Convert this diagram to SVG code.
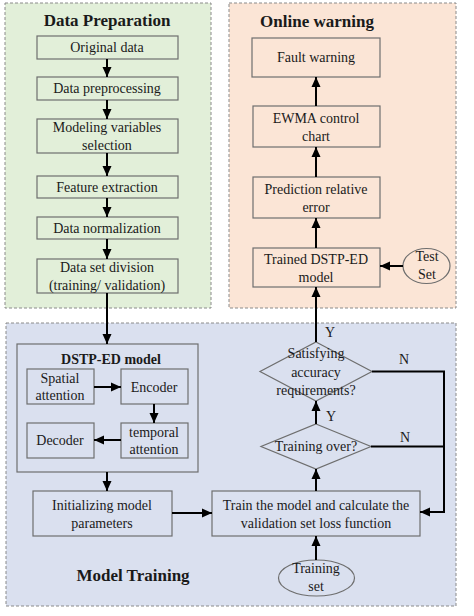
<svg xmlns="http://www.w3.org/2000/svg" width="474" height="616" viewBox="0 0 474 616">
<style>
text{font-family:"Liberation Serif","Times New Roman",serif;font-size:14px;fill:#1a1a1a;text-anchor:middle}
.t{font-weight:bold;font-size:17px}
.st{font-weight:bold;font-size:14px}
.panel{stroke:#8a8a8a;stroke-width:1;stroke-dasharray:3 2}
.box{stroke:#6e6e6e;stroke-width:1.2}
.g{fill:#e2efd9}.o{fill:#fbe5d6}.b{fill:#dae0ef}
.c{fill:none;stroke:#000;stroke-width:2}
</style>
<defs>
<marker id="ah" markerUnits="userSpaceOnUse" markerWidth="10" markerHeight="10" refX="10" refY="5" orient="auto">
<path d="M0,0.5 L10,5 L0,9.5 z" fill="#000"/>
</marker>
</defs>
<rect x="0" y="0" width="474" height="616" fill="#fff"/>
<g id="panel-prep"><rect class="panel g" x="5" y="3" width="206" height="305"/><text class="t" x="107" y="26">Data Preparation</text></g>
<g id="panel-online"><rect class="panel o" x="229" y="3" width="227" height="305"/><text class="t" x="317" y="27">Online warning</text></g>
<g id="panel-train"><rect class="panel b" x="6" y="323" width="450" height="283"/><text class="t" x="133" y="581">Model Training</text></g>

<g id="n-original"><rect class="box g" x="37" y="36" width="141" height="23"/><text x="107" y="52">Original data</text></g>
<g id="n-preproc"><rect class="box g" x="37" y="77" width="141" height="23"/><text x="107" y="93">Data preprocessing</text></g>
<g id="n-modvar"><rect class="box g" x="37" y="119" width="141" height="34"/><text x="107" y="132">Modeling variables</text><text x="107" y="150">selection</text></g>
<g id="n-feature"><rect class="box g" x="37" y="176" width="141" height="22"/><text x="107" y="192">Feature extraction</text></g>
<g id="n-norm"><rect class="box g" x="37" y="217" width="141" height="22"/><text x="107" y="233">Data normalization</text></g>
<g id="n-division"><rect class="box g" x="37" y="259" width="141" height="34"/><text x="107" y="272">Data set division</text><text x="107" y="290">(training/ validation)</text></g>

<g id="n-fault"><rect class="box o" x="252" y="38" width="128" height="39"/><text x="316" y="62">Fault warning</text></g>
<g id="n-ewma"><rect class="box o" x="253" y="106" width="127" height="41"/><text x="316" y="123">EWMA control</text><text x="316" y="141">chart</text></g>
<g id="n-pred"><rect class="box o" x="253" y="177" width="127" height="41"/><text x="316" y="194">Prediction relative</text><text x="316" y="212">error</text></g>
<g id="n-trained"><rect class="box o" x="253" y="248" width="127" height="39"/><text x="316" y="264">Trained DSTP-ED</text><text x="316" y="282">model</text></g>
<g id="n-testset"><ellipse class="box o" cx="426.5" cy="266" rx="23.5" ry="17.5"/><text x="427" y="261">Test</text><text x="427" y="279">Set</text></g>

<g id="n-dstp"><rect class="box b" x="17" y="344" width="181" height="128"/><text class="st" x="111" y="364">DSTP-ED model</text></g>
<g id="n-spatial"><rect class="box b" x="27" y="369" width="67" height="35"/><text x="60" y="383">Spatial</text><text x="60" y="400">attention</text></g>
<g id="n-encoder"><rect class="box b" x="121" y="369" width="67" height="35"/><text x="154" y="392">Encoder</text></g>
<g id="n-temporal"><rect class="box b" x="121" y="423" width="67" height="35"/><text x="154" y="437">temporal</text><text x="154" y="454">attention</text></g>
<g id="n-decoder"><rect class="box b" x="27" y="423" width="67" height="35"/><text x="60" y="445">Decoder</text></g>
<g id="n-init"><rect class="box b" x="33" y="491" width="139" height="45"/><text x="102" y="510">Initializing model</text><text x="102" y="528">parameters</text></g>
<g id="n-trainbox"><rect class="box b" x="212" y="491" width="208" height="45"/><text x="316" y="510">Train the model and calculate the</text><text x="316" y="528">validation set loss function</text></g>
<g id="n-trainset"><ellipse class="box b" cx="316.5" cy="578" rx="38" ry="18"/><text x="316" y="573">Training</text><text x="316" y="591">set</text></g>
<g id="n-over"><polygon class="box b" points="316,424 371,446.5 316,469 261,446.5"/><text x="316" y="451">Training over?</text></g>
<g id="n-satisfy"><polygon class="box b" points="316,342 372,371.5 316,401 260,371.5"/><text x="316" y="358">Satisfying</text><text x="316" y="377">accuracy</text><text x="316" y="395">requirements?</text></g>

<g id="connectors">
<line class="c" x1="107" y1="59" x2="107" y2="77" marker-end="url(#ah)"/>
<line class="c" x1="107" y1="100" x2="107" y2="119" marker-end="url(#ah)"/>
<line class="c" x1="107" y1="153" x2="107" y2="176" marker-end="url(#ah)"/>
<line class="c" x1="107" y1="198" x2="107" y2="217" marker-end="url(#ah)"/>
<line class="c" x1="107" y1="239" x2="107" y2="259" marker-end="url(#ah)"/>
<line class="c" x1="107" y1="293" x2="107" y2="344" marker-end="url(#ah)"/>
<line class="c" x1="94" y1="387" x2="121" y2="387" marker-end="url(#ah)"/>
<line class="c" x1="154" y1="404" x2="154" y2="423" marker-end="url(#ah)"/>
<line class="c" x1="121" y1="440" x2="94" y2="440" marker-end="url(#ah)"/>
<line class="c" x1="107" y1="472" x2="107" y2="491" marker-end="url(#ah)"/>
<line class="c" x1="172" y1="513" x2="212" y2="513" marker-end="url(#ah)"/>
<line class="c" x1="316" y1="560" x2="316" y2="536" marker-end="url(#ah)"/>
<line class="c" x1="316" y1="491" x2="316" y2="469" marker-end="url(#ah)"/>
<line class="c" x1="316" y1="424" x2="316" y2="401" marker-end="url(#ah)"/>
<line class="c" x1="316" y1="342" x2="316" y2="287" marker-end="url(#ah)"/>
<line class="c" x1="316" y1="248" x2="316" y2="218" marker-end="url(#ah)"/>
<line class="c" x1="316" y1="177" x2="316" y2="147" marker-end="url(#ah)"/>
<line class="c" x1="316" y1="106" x2="316" y2="77" marker-end="url(#ah)"/>
<line class="c" x1="403" y1="266" x2="380" y2="266" marker-end="url(#ah)"/>
<polyline class="c" points="372,371.5 444,371.5 444,512 420,512" marker-end="url(#ah)"/>
<line class="c" x1="371" y1="446.5" x2="444" y2="446.5"/>
<text x="330" y="337">Y</text>
<text x="331" y="421">Y</text>
<text x="404" y="364">N</text>
<text x="405" y="442">N</text>
</g>
</svg>
